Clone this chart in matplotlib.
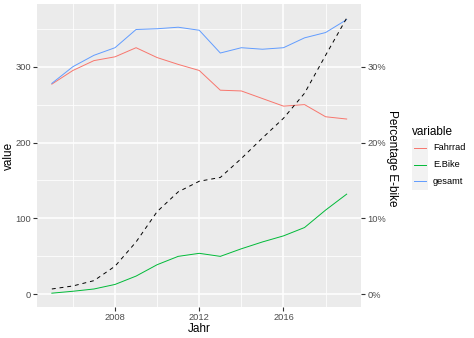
import matplotlib
matplotlib.use("Agg")
import matplotlib.pyplot as plt
from matplotlib.ticker import FuncFormatter
from matplotlib.patches import Rectangle
from matplotlib.lines import Line2D

# data
years = list(range(2005, 2020))
fahrrad = [277, 295, 308, 313, 325, 312, 303, 295, 269, 268, 258, 248, 250, 234, 231]
ebike = [1.5, 4, 7, 13, 24, 39, 50, 54, 50, 60, 69, 77, 88, 111, 132]
gesamt = [278, 300, 315, 325, 349, 350, 352, 348, 318, 325, 323, 325, 338, 345, 362]
pct_ebike = [0.7, 1.1, 1.8, 3.7, 6.9, 10.9, 13.5, 14.9, 15.4, 17.9, 20.6, 23.2, 26.5, 31.5, 36.4]

series_names = ["Fahrrad", "E.Bike", "gesamt"]
series_colors = ["#F8766D", "#00BA38", "#619CFF"]
series_values = [fahrrad, ebike, gesamt]

plt.rcParams['font.family'] = ['Liberation Sans', 'DejaVu Sans']

W, H = 474, 338
fig = plt.figure(figsize=(W / 100, H / 100), dpi=100)


def box(x0, y0, x1, y1):
    return [x0 / W, 1 - y1 / H, (x1 - x0) / W, (y1 - y0) / H]


ax = fig.add_axes(box(37.1, 3.7, 361.4, 307.2))
ax.set_facecolor('#EBEBEB')
for s in ax.spines.values():
    s.set_visible(False)
ax.set_xlim(2004.3, 2019.7)
ax.set_ylim(-17, 383)
ax.set_xticks([2008, 2012, 2016])
ax.set_xticks([2006, 2010, 2014, 2018], minor=True)
ax.set_yticks([0, 100, 200, 300])
ax.set_yticks([50, 150, 250, 350], minor=True)
ax.grid(which='major', color='white', lw=1.1)
ax.grid(which='minor', color='white', lw=0.55)
ax.set_axisbelow(True)
ax.tick_params(which='major', length=2.75, width=0.8, color='#333333',
               labelsize=6.7, labelcolor='#4D4D4D', pad=1.5)
ax.tick_params(which='minor', length=0)

for name, col, vals in zip(series_names, series_colors, series_values):
    ax.plot(years, vals, color=col, lw=0.7)

ax2 = ax.twinx()
for s in ax2.spines.values():
    s.set_visible(False)
ax2.set_ylim(-1.7, 38.3)
ax2.plot(years, pct_ebike, color='black', lw=0.7, ls=(0, (4, 4)))
ax2.set_yticks([0, 10, 20, 30])
ax2.yaxis.set_major_formatter(FuncFormatter(lambda v, p: f"{v:.0f}%"))
ax2.tick_params(length=2.75, width=0.8, color='#333333',
                labelsize=6.7, labelcolor='#4D4D4D', pad=1.5)

# axis titles
fig.text(199 / W, 1 - 328.5 / H, 'Jahr', fontsize=8.5, ha='center', va='center')
fig.text(9 / W, 1 - 155.5 / H, 'value', fontsize=8.5, rotation=90,
         ha='center', va='center')
fig.text(392.5 / W, 1 - 158 / H, 'Percentage E-bike', fontsize=8.5, rotation=-90,
         ha='center', va='center')

# legend, ggplot style
fig.text(412 / W, 1 - 131.7 / H, 'variable', fontsize=8.5, va='center', ha='left')
key_h = 16.7
for i, (name, col) in enumerate(zip(series_names, series_colors)):
    y0 = 139.5 + i * key_h
    fig.add_artist(Rectangle((412 / W, 1 - (y0 + key_h) / H), 16 / W, key_h / H,
                             transform=fig.transFigure, facecolor='#F2F2F2',
                             edgecolor='none', zorder=1))
    yc = 1 - (y0 + key_h / 2) / H
    fig.add_artist(Line2D([413.6 / W, 426.4 / W], [yc, yc], color=col, lw=0.7,
                          transform=fig.transFigure, zorder=3))
    fig.text(433 / W, yc, name, fontsize=6.7, va='center', ha='left')

fig.savefig('out.png', dpi=100)
